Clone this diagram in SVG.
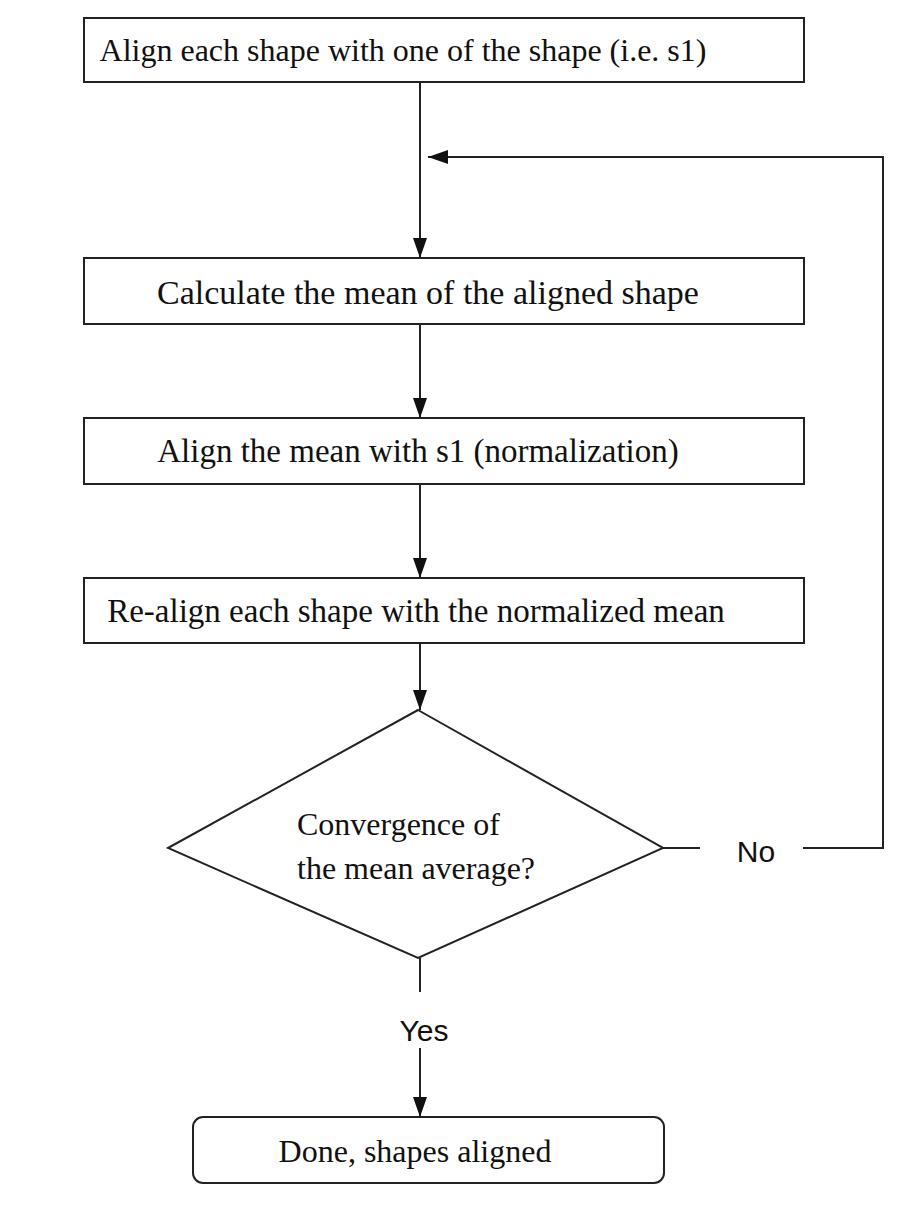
<svg xmlns="http://www.w3.org/2000/svg" width="906" height="1209" viewBox="0 0 906 1209">
<style>
.box{fill:#fff;stroke:#222;stroke-width:2}
.t{font-family:"Liberation Serif","Times New Roman",serif;font-size:32px;fill:#111;text-anchor:middle}
.l{text-anchor:start}
.s{font-family:"Liberation Sans",Arial,sans-serif;font-size:30px;fill:#111;text-anchor:middle}
.c{fill:none;stroke:#222;stroke-width:2}
</style>
<defs>
<marker id="ah2" viewBox="0 0 20 14" refX="20" refY="7" markerWidth="20" markerHeight="14" markerUnits="userSpaceOnUse" orient="auto">
<path d="M0,0 L20,7 L0,14 z" fill="#111"/>
</marker>
</defs>
<rect width="906" height="1209" fill="#fff"/>
<g id="connectors">
<line class="c" x1="420" y1="82" x2="420" y2="258" marker-end="url(#ah2)"/>
<line class="c" x1="420" y1="324" x2="420" y2="418" marker-end="url(#ah2)"/>
<line class="c" x1="420" y1="484" x2="420" y2="578" marker-end="url(#ah2)"/>
<line class="c" x1="420" y1="643" x2="420" y2="710" marker-end="url(#ah2)"/>
<line class="c" x1="663" y1="848" x2="700" y2="848"/>
<polyline class="c" points="803,848 883,848 883,157 428,157" marker-end="url(#ah2)"/>
<line class="c" x1="420" y1="958" x2="420" y2="992"/>
<line class="c" x1="420" y1="1048" x2="420" y2="1117" marker-end="url(#ah2)"/>
<text class="s" x="756" y="862">No</text>
<text class="s" x="424" y="1041">Yes</text>
</g>
<g id="n1">
<rect class="box" x="84" y="18" width="720" height="64"/>
<text class="t" x="403" y="61">Align each shape with one of the shape (i.e. s1)</text>
</g>
<g id="n2">
<rect class="box" x="84" y="258" width="720" height="66"/>
<text class="t" x="428" y="304" style="font-size:34px">Calculate the mean of the aligned shape</text>
</g>
<g id="n3">
<rect class="box" x="84" y="418" width="720" height="66"/>
<text class="t" x="418" y="462" style="font-size:33px">Align the mean with s1 (normalization)</text>
</g>
<g id="n4">
<rect class="box" x="84" y="578" width="720" height="65"/>
<text class="t" x="416" y="622" style="font-size:33px">Re-align each shape with the normalized mean</text>
</g>
<g id="n5">
<polygon class="box" points="418,710 663,848 418,958 168,848"/>
<text class="t l" x="297" y="835">Convergence of</text>
<text class="t l" x="297" y="879">the mean average?</text>
</g>
<g id="n6">
<rect class="box" x="193" y="1117" width="471" height="66" rx="10" ry="10"/>
<text class="t" x="415" y="1162">Done, shapes aligned</text>
</g>
</svg>
